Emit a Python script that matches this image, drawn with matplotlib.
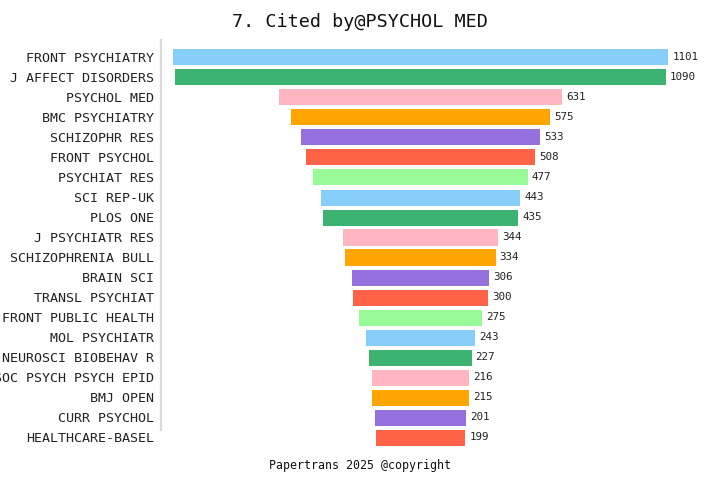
import matplotlib
matplotlib.use("Agg")
import matplotlib.pyplot as plt

journals = ["FRONT PSYCHIATRY", "J AFFECT DISORDERS", "PSYCHOL MED", "BMC PSYCHIATRY",
            "SCHIZOPHR RES", "FRONT PSYCHOL", "PSYCHIAT RES", "SCI REP-UK", "PLOS ONE",
            "J PSYCHIATR RES", "SCHIZOPHRENIA BULL", "BRAIN SCI", "TRANSL PSYCHIAT",
            "FRONT PUBLIC HEALTH", "MOL PSYCHIATR", "NEUROSCI BIOBEHAV R",
            "SOC PSYCH PSYCH EPID", "BMJ OPEN", "CURR PSYCHOL", "HEALTHCARE-BASEL"]
counts = [1101, 1090, 631, 575, 533, 508, 477, 443, 435, 344,
          334, 306, 300, 275, 243, 227, 216, 215, 201, 199]
palette = ["lightskyblue", "mediumseagreen", "lightpink", "orange",
           "mediumpurple", "tomato", "palegreen"]

plt.rcParams['font.family'] = ['DejaVu Sans Mono']

fig = plt.figure(figsize=(7.2, 4.8), dpi=100)
ax = fig.add_axes([161/720, 1 - 455/480, 519/720, 415/480])

n = len(counts)
ypos = list(range(n))
colors = [palette[i % len(palette)] for i in range(n)]
lefts = [-c / 2 for c in counts]
ax.barh(ypos, counts, left=lefts, height=0.8, color=colors)

for y, c in zip(ypos, counts):
    ax.text(c / 2 + 9, y, str(c), va='center', ha='left', fontsize=7.8,
            color='#222222', clip_on=False)

ax.set_yticks(ypos)
ax.set_yticklabels(journals, fontsize=9.6, color='#222222')
ax.tick_params(axis='y', length=0, pad=5)
ax.set_xticks([])
half = max(counts) / 2 * 1.0476
ax.set_xlim(-half, half)
ax.set_ylim(19.875, -0.875)
for s in ['top', 'right', 'bottom']:
    ax.spines[s].set_visible(False)
ax.spines['left'].set_color('#d9d9d9')
ax.spines['left'].set_linewidth(1.6)
ax.spines['left'].set_bounds(-0.875, 18.625)

fig.text(0.5, 1 - 22/480, "7. Cited by@PSYCHOL MED", ha='center', va='center',
         fontsize=13.3, color='#111111')
fig.text(0.5, 1 - 466/480, "Papertrans 2025 @copyright", ha='center', va='center',
         fontsize=8.4, color='#111111')

fig.savefig("out.png", dpi=100)
